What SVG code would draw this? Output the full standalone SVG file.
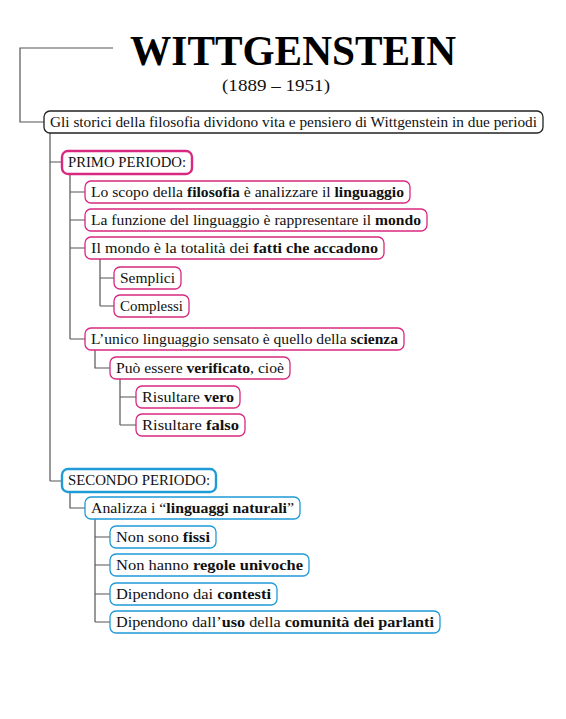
<svg xmlns="http://www.w3.org/2000/svg" width="566" height="719" viewBox="0 0 566 719">
<style>
text{font-family:"Liberation Serif","Times New Roman",serif;font-size:15px;fill:#111}
.b{font-weight:bold}
.box{fill:#fff;stroke-width:1.3}
.k{stroke:#222}
.m{stroke:#d8287f}
.c{stroke:#1f9bd7}
.mh{stroke:#d8287f;stroke-width:2.4}
.ch{stroke:#1f9bd7;stroke-width:2.4}
#connectors path{fill:none;stroke:#555;stroke-width:1.2}
</style>
<rect width="566" height="719" fill="#fff"/>
<g id="connectors">
<path d="M113 48H20V122H44"/>
<path d="M50 133V481M50 162H62M50 481H62"/>
<path d="M70 174V339M70 192H85M70 220H85M70 248H85M70 339H85"/>
<path d="M100 259V306M100 278H114M100 306H114"/>
<path d="M95 350V368H110"/>
<path d="M120 379V425M120 397H136M120 425H136"/>
<path d="M70 492V508H85"/>
<path d="M95 519V622M95 537H110M95 565H110M95 594H110M95 622H110"/>
</g>
<g id="title">
<text x="293" y="65" text-anchor="middle" class="b" style="font-size:42px;fill:#000" textLength="326" lengthAdjust="spacingAndGlyphs">WITTGENSTEIN</text>
<text x="276" y="91" text-anchor="middle" style="font-size:17px" textLength="108" lengthAdjust="spacingAndGlyphs">(1889 – 1951)</text>
</g>
<g id="n0"><rect class="box k" x="44" y="111" width="499" height="22" rx="6"/><text x="50" y="127" textLength="487" lengthAdjust="spacingAndGlyphs">Gli storici della filosofia dividono vita e pensiero di Wittgenstein in due periodi</text></g>
<g id="p1"><rect class="box mh" x="62" y="151" width="130" height="23" rx="6"/><text x="68" y="167" textLength="118" lengthAdjust="spacingAndGlyphs">PRIMO PERIODO:</text></g>
<g id="p1a"><rect class="box m" x="85" y="181" width="325" height="22" rx="6"/><text x="91" y="197" textLength="313" lengthAdjust="spacingAndGlyphs">Lo scopo della <tspan class="b">filosofia</tspan> è analizzare il <tspan class="b">linguaggio</tspan></text></g>
<g id="p1b"><rect class="box m" x="85" y="209" width="342" height="22" rx="6"/><text x="91" y="225" textLength="330" lengthAdjust="spacingAndGlyphs">La funzione del linguaggio è rappresentare il <tspan class="b">mondo</tspan></text></g>
<g id="p1c"><rect class="box m" x="85" y="237" width="299" height="22" rx="6"/><text x="91" y="253" textLength="287" lengthAdjust="spacingAndGlyphs">Il mondo è la totalità dei <tspan class="b">fatti che accadono</tspan></text></g>
<g id="p1c1"><rect class="box m" x="114" y="267" width="67" height="22" rx="6"/><text x="120" y="283" textLength="55" lengthAdjust="spacingAndGlyphs">Semplici</text></g>
<g id="p1c2"><rect class="box m" x="114" y="295" width="75" height="22" rx="6"/><text x="120" y="311" textLength="63" lengthAdjust="spacingAndGlyphs">Complessi</text></g>
<g id="p1d"><rect class="box m" x="85" y="328" width="319" height="22" rx="6"/><text x="91" y="344" textLength="307" lengthAdjust="spacingAndGlyphs">L’unico linguaggio sensato è quello della <tspan class="b">scienza</tspan></text></g>
<g id="p1d1"><rect class="box m" x="110" y="357" width="180" height="22" rx="6"/><text x="116" y="373" textLength="168" lengthAdjust="spacingAndGlyphs">Può essere <tspan class="b">verificato</tspan>, cioè</text></g>
<g id="p1d1a"><rect class="box m" x="136" y="386" width="104" height="22" rx="6"/><text x="142" y="402" textLength="92" lengthAdjust="spacingAndGlyphs">Risultare <tspan class="b">vero</tspan></text></g>
<g id="p1d1b"><rect class="box m" x="136" y="414" width="109" height="22" rx="6"/><text x="142" y="430" textLength="97" lengthAdjust="spacingAndGlyphs">Risultare <tspan class="b">falso</tspan></text></g>
<g id="p2"><rect class="box ch" x="62" y="469" width="154" height="23" rx="6"/><text x="68" y="485" textLength="142" lengthAdjust="spacingAndGlyphs">SECONDO PERIODO:</text></g>
<g id="p2a"><rect class="box c" x="85" y="497" width="215" height="22" rx="6"/><text x="91" y="513" textLength="203" lengthAdjust="spacingAndGlyphs">Analizza i “<tspan class="b">linguaggi naturali</tspan>”</text></g>
<g id="p2a1"><rect class="box c" x="110" y="526" width="106" height="22" rx="6"/><text x="116" y="542" textLength="94" lengthAdjust="spacingAndGlyphs">Non sono <tspan class="b">fissi</tspan></text></g>
<g id="p2a2"><rect class="box c" x="110" y="554" width="199" height="22" rx="6"/><text x="116" y="570" textLength="187" lengthAdjust="spacingAndGlyphs">Non hanno <tspan class="b">regole univoche</tspan></text></g>
<g id="p2a3"><rect class="box c" x="110" y="583" width="167" height="22" rx="6"/><text x="116" y="599" textLength="155" lengthAdjust="spacingAndGlyphs">Dipendono dai <tspan class="b">contesti</tspan></text></g>
<g id="p2a4"><rect class="box c" x="110" y="611" width="330" height="22" rx="6"/><text x="116" y="627" textLength="318" lengthAdjust="spacingAndGlyphs">Dipendono dall’<tspan class="b">uso</tspan> della <tspan class="b">comunità dei parlanti</tspan></text></g>
</svg>
